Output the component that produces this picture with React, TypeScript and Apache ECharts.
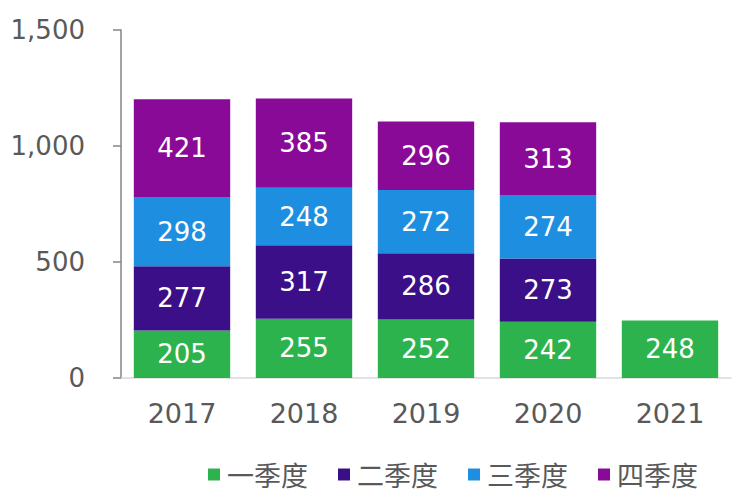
import React, { useEffect, useRef } from "react";
import * as echarts from "echarts";

const years = ["2017", "2018", "2019", "2020", "2021"];
const seriesNames = ["一季度", "二季度", "三季度", "四季度"];
const q1 = [205, 255, 252, 242, 248];
const q2 = [277, 317, 286, 273, null];
const q3 = [298, 248, 272, 274, null];
const q4 = [421, 385, 296, 313, null];
const colors = ["#2db34d", "#3a0f88", "#1e8fe0", "#8a0a98"];
const yTicks = [0, 500, 1000, 1500];

export default function App() {
  const ref = useRef<HTMLDivElement>(null);
  useEffect(() => {
    if (!ref.current) return;
    const chart = echarts.init(ref.current, null, { renderer: "svg" });
    const font = "Verdana, 'DejaVu Sans', sans-serif";
    const all = [q1, q2, q3, q4];
    chart.setOption({
      animation: false,
      grid: { left: 121, right: 23, top: 30, bottom: 126 },
      legend: {
        bottom: 11,
        left: 203,
        itemWidth: 12,
        itemHeight: 12,
        itemGap: 30,
        icon: "rect",
        textStyle: { fontSize: 27, color: "#595959", fontFamily: "'Noto Sans CJK SC', sans-serif", padding: [0, 0, 0, 2] },
        data: seriesNames,
      },
      xAxis: {
        type: "category",
        data: years,
        axisLine: { show: true, lineStyle: { color: "#d9d9d9", width: 1.5 } },
        axisTick: { show: false },
        axisLabel: { fontSize: 27, color: "#595959", fontFamily: font, margin: 22 },
      },
      yAxis: {
        type: "value",
        min: yTicks[0],
        max: yTicks[yTicks.length - 1],
        interval: 500,
        splitLine: { show: false },
        axisLine: { show: true, lineStyle: { color: "#858585", width: 1.5 } },
        axisTick: { show: true, length: 8, lineStyle: { color: "#858585", width: 1.5 } },
        axisLabel: {
          fontSize: 26,
          color: "#595959",
          fontFamily: font,
          margin: 36,
          formatter: (v: number) => v.toLocaleString("en-US"),
        },
      },
      series: seriesNames.map((name, i) => ({
        name,
        type: "bar",
        stack: "total",
        barCategoryGap: "21%",
        data: all[i],
        itemStyle: { color: colors[i] },
        label: {
          show: true,
          position: "inside",
          color: "#ffffff",
          fontSize: 26,
          fontFamily: font,
        },
      })),
    });
    return () => chart.dispose();
  }, []);
  return <div ref={ref} style={{ width: 754, height: 504, position: "absolute", left: 0, top: 0 }} />;
}
